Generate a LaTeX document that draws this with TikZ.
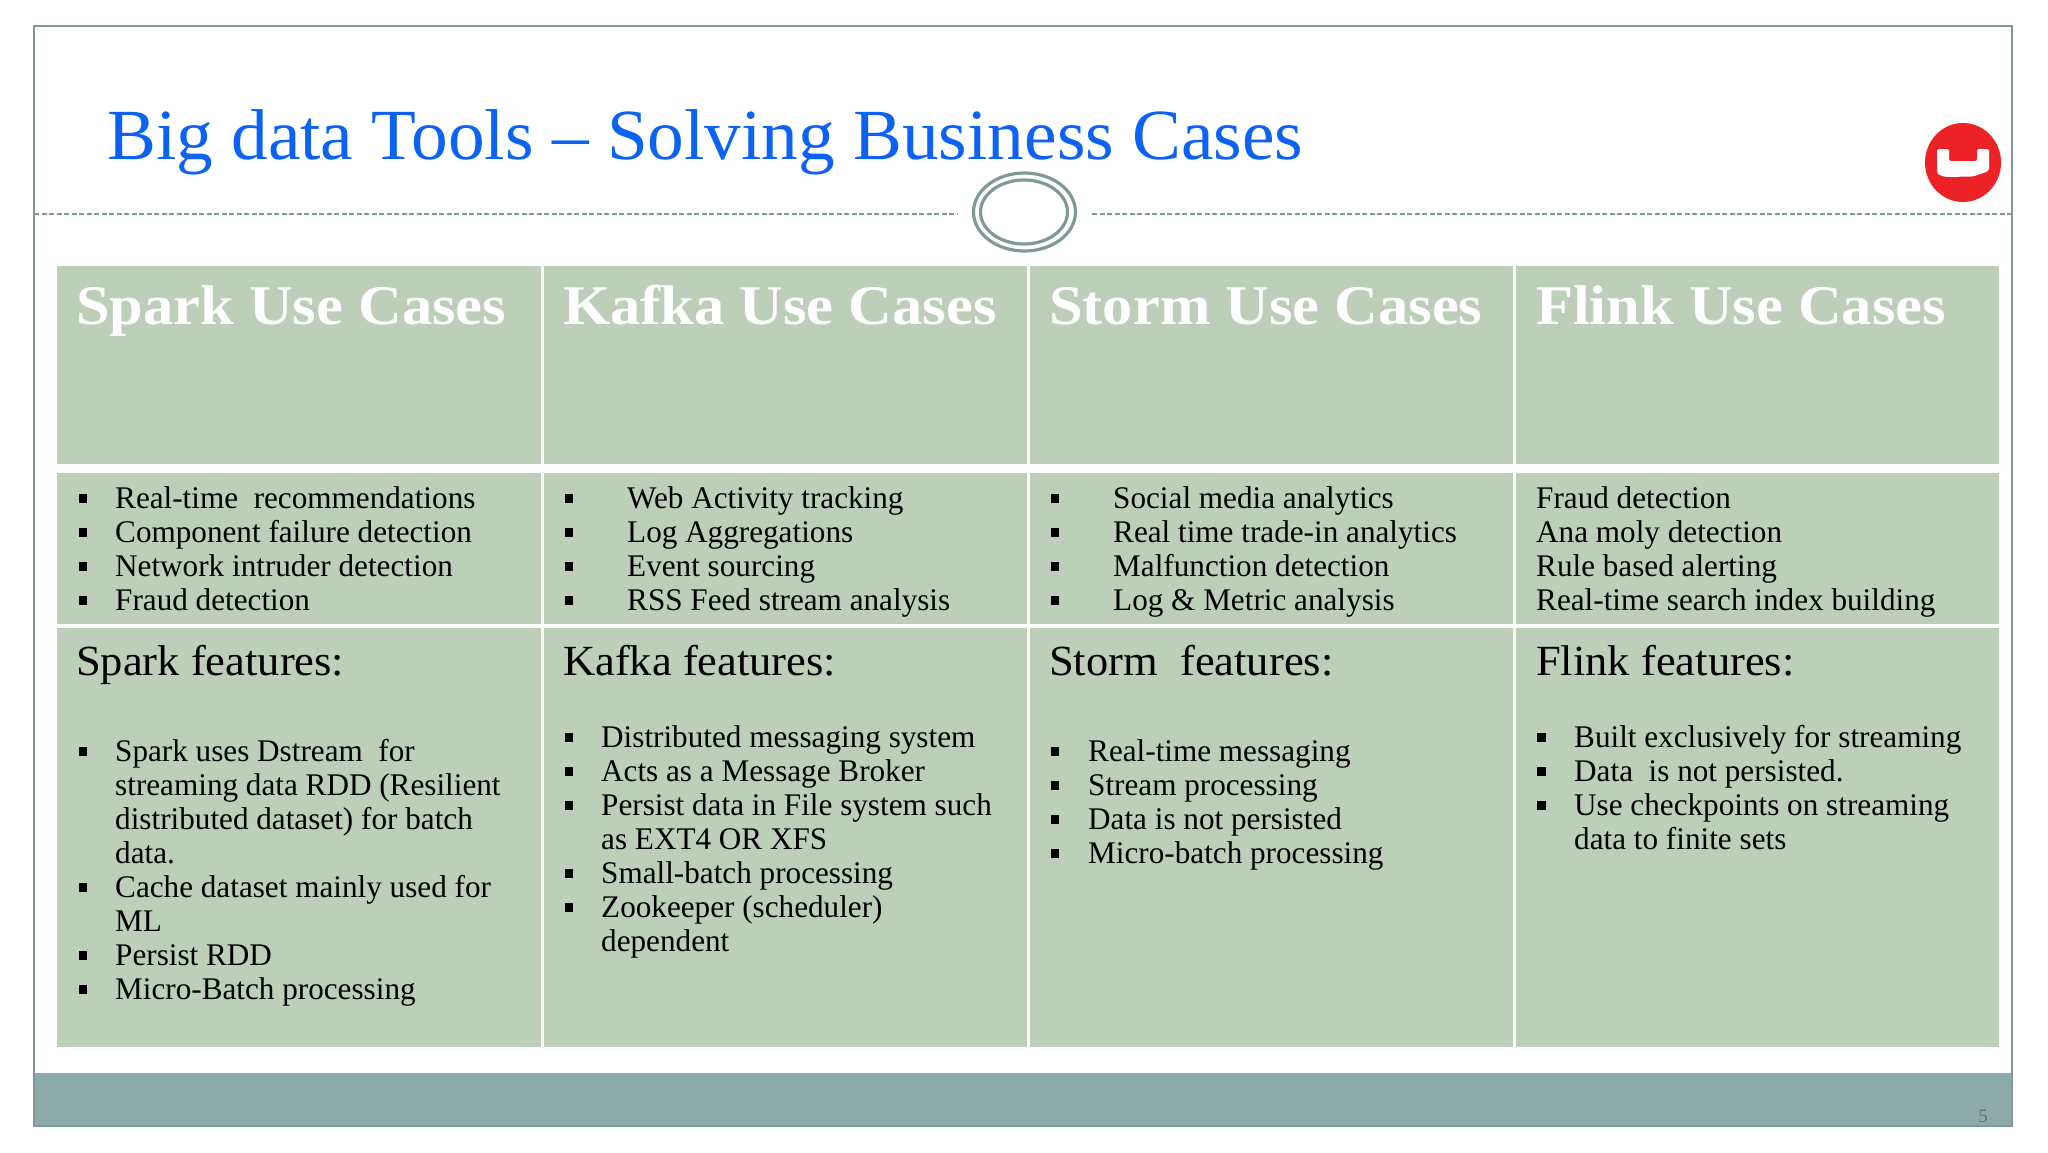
\documentclass[tikz,border=0pt]{standalone}
\usepackage{fontspec}
\setmainfont{Liberation Serif}
\newfontfamily\titlefont[FakeStretch=1.018]{Liberation Serif}
\newfontfamily\headfont[FakeStretch=1.08]{Liberation Serif}
\newfontfamily\fheadfont[FakeStretch=1.035]{Liberation Serif}
\newfontfamily\bodyfont[FakeStretch=0.99]{Liberation Serif}
\definecolor{framec}{HTML}{7F9A96}
\definecolor{cellc}{HTML}{BDCFB9}
\definecolor{footc}{HTML}{8DACA9}
\definecolor{titlec}{HTML}{0B62F3}
\definecolor{logoc}{HTML}{EC2227}
\definecolor{numc}{HTML}{587471}
\newcommand{\bl}[1]{\makebox[0pt][r]{\rule[5.5pt]{8.5pt}{9pt}\hspace{\dimexpr#1pt-8.5pt\relax}}}
\tikzset{
  cell/.style={fill=cellc,draw=none},
  bodytext/.style={anchor=north west,inner sep=0pt,align=left,text=black,font=\bodyfont\fontsize{31.5}{34}\selectfont},
  headtext/.style={anchor=base west,inner sep=0pt,text=white,font=\headfont\bfseries\fontsize{56}{58}\selectfont},
  feathead/.style={anchor=base west,inner sep=0pt,text=black,font=\fheadfont\fontsize{43}{46}\selectfont},
}
\begin{document}
\begin{tikzpicture}[x=1pt,y=-1pt]
\useasboundingbox (0,0) rectangle (2048,1152);
\fill[white] (0,0) rectangle (2048,1152);
% footer and frame
\fill[footc] (34,1073) rectangle (2012,1126);
\draw[framec,line width=2pt] (34,26) rectangle (2012,1126);
% title rule
\coordinate (ruleLa) at (34,214);
\coordinate (ruleLb) at (957,214);
\coordinate (ruleRa) at (1092,214);
\coordinate (ruleRb) at (2012,214);
\draw[framec,line width=1.6pt,dash pattern=on 5pt off 2.5pt] (ruleLa) -- (ruleLb);
\draw[framec,line width=1.6pt,dash pattern=on 5pt off 2.5pt] (ruleRa) -- (ruleRb);
\draw[framec,line width=3.2pt] (1024.5,212) ellipse [x radius=51,y radius=39];
\draw[framec,line width=3.2pt] (1024,212) ellipse [x radius=43.5,y radius=32];
% logo
\fill[logoc] (1963,162.5) ellipse [x radius=38,y radius=39.5];
\fill[white,rounded corners=2pt] (1937,149) -- (1949,149) -- (1949,161) -- (1977,161) -- (1977,149) -- (1989,149) -- (1989,171) -- (1973,176.5) -- (1945,177) -- (1937,174) -- cycle;
% table cells
\foreach \xa/\xb in {57/541,544/1027,1030/1513,1516/1999}{
  \fill[cell] (\xa,266) rectangle (\xb,464);
  \fill[cell] (\xa,473) rectangle (\xb,624);
  \fill[cell] (\xa,628) rectangle (\xb,1047);
}
% title
\node[anchor=base west,inner sep=0pt,text=titlec,font=\titlefont\fontsize{72}{76}\selectfont] (title) at (107,159) {Big data Tools – Solving Business Cases};
% header row
\node[headtext] (h1) at (76,324) {Spark Use Cases};
\node[headtext] (h2) at (563,324) {Kafka Use Cases};
\node[headtext] (h3) at (1049,324) {Storm Use Cases};
\node[headtext] (h4) at (1536,324) {Flink Use Cases};
% use cases
\node[bodytext] (u1) at (115,486) {\bl{36.5}Real-time\ \ recommendations\\\bl{36.5}Component failure detection\\\bl{36.5}Network intruder detection\\\bl{36.5}Fraud detection};
\node[bodytext] (u2) at (627,486) {\bl{62.5}Web Activity tracking\\\bl{62.5}Log Aggregations\\\bl{62.5}Event sourcing\\\bl{62.5}RSS Feed stream analysis};
\node[bodytext] (u3) at (1113,486) {\bl{62.5}Social media analytics\\\bl{62.5}Real time trade-in analytics\\\bl{62.5}Malfunction detection\\\bl{62.5}Log \& Metric analysis};
\node[bodytext] (u4) at (1536,486) {Fraud detection\\Ana moly detection\\Rule based alerting\\Real-time search index building};
% feature heads
\node[feathead] (f1) at (76,675.5) {Spark features:};
\node[feathead] (f2) at (563,675.5) {Kafka features:};
\node[feathead] (f3) at (1049,675.5) {Storm\ \ features:};
\node[feathead] (f4) at (1536,675.5) {Flink features:};
% feature lists
\node[bodytext] (l1) at (115,739) {\bl{36.5}Spark uses Dstream\ \ for\\streaming data RDD (Resilient\\distributed dataset) for batch\\data.\\\bl{36.5}Cache dataset mainly used for\\ML\\\bl{36.5}Persist RDD\\\bl{36.5}Micro-Batch processing};
\node[bodytext] (l2) at (601,725) {\bl{36.5}Distributed messaging system\\\bl{36.5}Acts as a Message Broker\\\bl{36.5}Persist data in File system such\\as EXT4 OR XFS\\\bl{36.5}Small-batch processing\\\bl{36.5}Zookeeper (scheduler)\\dependent};
\node[bodytext] (l3) at (1088,739) {\bl{37.5}Real-time messaging\\\bl{37.5}Stream processing\\\bl{37.5}Data is not persisted\\\bl{37.5}Micro-batch processing};
\node[bodytext] (l4) at (1574,725) {\bl{37}Built exclusively for streaming\\\bl{37}Data\ \ is not persisted.\\\bl{37}Use checkpoints on streaming\\data to finite sets};
% page number
\node[anchor=base,inner sep=0pt,text=numc,font=\bodyfont\fontsize{19}{21}\selectfont] (pnum) at (1983,1122) {5};
\end{tikzpicture}
\end{document}
